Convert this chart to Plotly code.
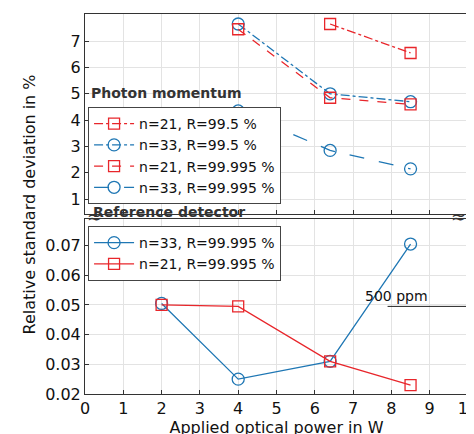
import plotly.graph_objects as go

x_pm = [4, 6.4, 8.5]
pm_n21_r995_x = [6.4, 8.5]
pm_n21_r995 = [7.65, 6.55]
pm_n33_r995 = [7.65, 5.0, 4.7]
pm_n21_r99995 = [7.45, 4.85, 4.6]
pm_n33_r99995 = [4.35, 2.85, 2.15]

x_ref = [2, 4, 6.4, 8.5]
ref_n33 = [0.0505, 0.025, 0.031, 0.0705]
ref_n21 = [0.050, 0.0495, 0.031, 0.023]

RED = "#e8262b"
BLUE = "#1f77b4"
FONT = "DejaVu Sans"

fig = go.Figure()
sq = dict(symbol="square-open", size=11, line=dict(width=1.3))
ci = dict(symbol="circle-open", size=12, line=dict(width=1.3))

fig.add_trace(go.Scatter(x=pm_n21_r995_x, y=pm_n21_r995, name="n=21, R=99.5 %", mode="lines+markers",
                         line=dict(color=RED, dash="dashdot", width=1.3), marker=dict(color=RED, **sq),
                         xaxis="x", yaxis="y", legend="legend"))
fig.add_trace(go.Scatter(x=x_pm, y=pm_n33_r995, name="n=33, R=99.5 %", mode="lines+markers",
                         line=dict(color=BLUE, dash="dashdot", width=1.3), marker=dict(color=BLUE, **ci),
                         xaxis="x", yaxis="y", legend="legend"))
fig.add_trace(go.Scatter(x=x_pm, y=pm_n21_r99995, name="n=21, R=99.995 %", mode="lines+markers",
                         line=dict(color=RED, dash="dash", width=1.3), marker=dict(color=RED, **sq),
                         xaxis="x", yaxis="y", legend="legend"))
fig.add_trace(go.Scatter(x=x_pm, y=pm_n33_r99995, name="n=33, R=99.995 %", mode="lines+markers",
                         line=dict(color=BLUE, dash="longdash", width=1.3), marker=dict(color=BLUE, **ci),
                         xaxis="x", yaxis="y", legend="legend"))

fig.add_trace(go.Scatter(x=x_ref, y=ref_n33, name="n=33, R=99.995 %", mode="lines+markers",
                         line=dict(color=BLUE, width=1.3), marker=dict(color=BLUE, **ci),
                         xaxis="x2", yaxis="y2", legend="legend2"))
fig.add_trace(go.Scatter(x=x_ref, y=ref_n21, name="n=21, R=99.995 %", mode="lines+markers",
                         line=dict(color=RED, width=1.3), marker=dict(color=RED, **sq),
                         xaxis="x2", yaxis="y2", legend="legend2"))

axis_common = dict(showgrid=True, gridcolor="#e3e3e3", showline=True, linecolor="#333", mirror=True,
                   ticks="inside", ticklen=4, tickcolor="#333", zeroline=False, automargin=False,
                   tickfont=dict(size=16, color="#111"))

fig.update_layout(
    width=474, height=434, plot_bgcolor="white", paper_bgcolor="white",
    margin=dict(l=77, r=14, t=6, b=48),
    font=dict(family=FONT, color="#111"),
    xaxis=dict(range=[0, 10], domain=[0, 1], dtick=1, showticklabels=False, anchor="y", **axis_common),
    yaxis=dict(range=[0.42, 8.03], domain=[0.4726, 1], tickvals=[1, 2, 3, 4, 5, 6, 7, 8], anchor="x", **axis_common),
    xaxis2=dict(range=[0, 10], domain=[0, 1], dtick=1, anchor="y2",
                title=dict(text="Applied optical power in W", font=dict(size=16), standoff=2), **axis_common),
    yaxis2=dict(range=[0.02, 0.0788], domain=[0, 0.4595], tickvals=[0.02, 0.03, 0.04, 0.05, 0.06, 0.07],
                tickformat=".2f", anchor="x2", **axis_common),
    legend=dict(x=0.008, y=0.755, xanchor="left", yanchor="top", bgcolor="white", bordercolor="#444",
                borderwidth=1, font=dict(size=14), tracegroupgap=0, itemwidth=40),
    legend2=dict(x=0.008, y=0.442, xanchor="left", yanchor="top", bgcolor="white", bordercolor="#444",
                 borderwidth=1, font=dict(size=14), tracegroupgap=0, itemwidth=40),
    showlegend=True,
)

fig.add_annotation(text="<b>Photon momentum</b>", xref="paper", yref="paper", x=0.01, y=0.765,
                   xanchor="left", yanchor="bottom", showarrow=False, font=dict(size=14, color="#333"))
fig.add_annotation(text="<b>Reference detector</b>", xref="paper", yref="paper", x=0.015, y=0.452,
                   xanchor="left", yanchor="bottom", showarrow=False, font=dict(size=14, color="#333"))
fig.add_annotation(text="Relative standard deviation in %", xref="paper", yref="paper", x=-0.175, y=0.5,
                   textangle=-90, showarrow=False, font=dict(size=16))
for xb in [0, 1]:
    fig.add_annotation(text="≈", xref="paper", yref="paper", x=xb, y=0.466, showarrow=False,
                       font=dict(size=18, color="#333"))

fig.add_shape(type="line", xref="paper", yref="y2", x0=0.79, x1=1.04, y0=0.0495, y1=0.0495,
              line=dict(color="#222", width=1))
fig.add_annotation(text="500 ppm", xref="paper", yref="y2", x=0.90, y=0.0495, yanchor="bottom",
                   showarrow=False, font=dict(size=14))

fig.write_html("out.html")
